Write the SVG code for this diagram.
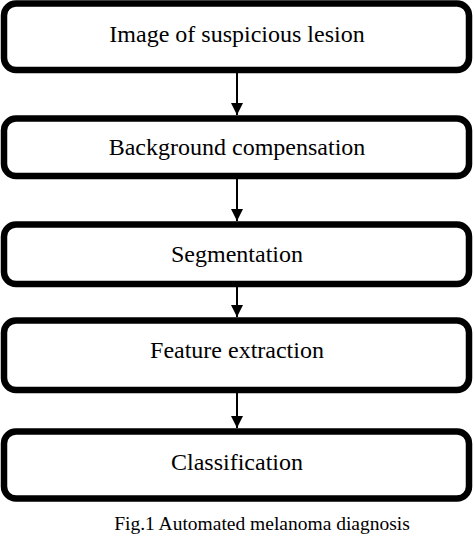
<svg xmlns="http://www.w3.org/2000/svg" width="474" height="536" viewBox="0 0 474 536">
<defs>
<style>
.box{fill:#fff;stroke:#000;stroke-width:6.5}
.lbl{font-family:"Liberation Serif","Times New Roman",serif;font-size:24px;fill:#000;text-anchor:middle}
.cap{font-family:"Liberation Serif","Times New Roman",serif;font-size:19.5px;fill:#000;text-anchor:middle}
.con{stroke:#000;stroke-width:2;fill:none}
</style>
<marker id="ah" viewBox="0 0 12 12" refX="12" refY="6" markerWidth="12" markerHeight="12" markerUnits="userSpaceOnUse" orient="auto">
<path d="M0,0 L12,6 L0,12 Z" fill="#000"/>
</marker>
</defs>
<rect width="474" height="536" fill="#fff"/>
<g id="connectors">
<line class="con" x1="237" y1="73" x2="237" y2="115" marker-end="url(#ah)"/>
<line class="con" x1="237" y1="179" x2="237" y2="221" marker-end="url(#ah)"/>
<line class="con" x1="237" y1="287" x2="237" y2="317" marker-end="url(#ah)"/>
<line class="con" x1="237" y1="393" x2="237" y2="428" marker-end="url(#ah)"/>
</g>
<g id="n1"><rect class="box" x="4" y="3.5" width="465" height="66.5" rx="12"/><text class="lbl" x="237" y="42">Image of suspicious lesion</text></g>
<g id="n2"><rect class="box" x="4" y="118.5" width="465" height="57.5" rx="12"/><text class="lbl" x="237" y="155">Background compensation</text></g>
<g id="n3"><rect class="box" x="4" y="224.5" width="465" height="59.5" rx="12"/><text class="lbl" x="237" y="262">Segmentation</text></g>
<g id="n4"><rect class="box" x="4" y="320.5" width="465" height="69.5" rx="12"/><text class="lbl" x="237" y="358">Feature extraction</text></g>
<g id="n5"><rect class="box" x="4" y="431.5" width="465" height="67" rx="12"/><text class="lbl" x="237" y="470">Classification</text></g>
<text class="cap" x="262" y="530">Fig.1 Automated melanoma diagnosis</text>
</svg>
